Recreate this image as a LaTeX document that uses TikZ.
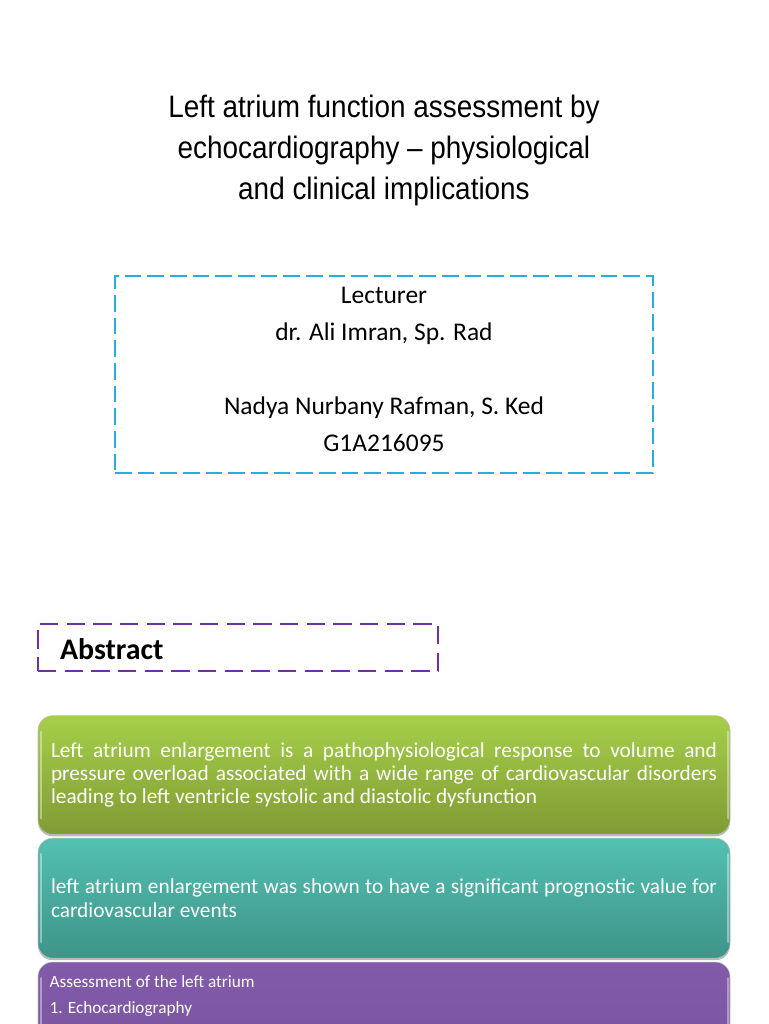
\documentclass[tikz,border=0pt]{standalone}
\usepackage{fontspec}
\setmainfont{Carlito}
\newfontfamily\titlefont[FakeStretch=0.9]{Liberation Sans}
\usetikzlibrary{positioning, shadows}
\definecolor{dashblue}{RGB}{38, 174, 222}
\definecolor{dashpurple}{RGB}{112, 48, 160}
\definecolor{greentop}{RGB}{166, 207, 74}
\definecolor{greenbot}{RGB}{128, 155, 52}
\definecolor{tealtop}{RGB}{82, 192, 178}
\definecolor{tealbot}{RGB}{62, 148, 136}
\definecolor{purpletop}{RGB}{130, 90, 170}
\definecolor{purplebot}{RGB}{118, 82, 156}
\tikzstyle{titletext} = [
    align=center,
    font=\titlefont\fontsize{23.25}{30.75}\selectfont
]
\tikzstyle{bluedash} = [
    rectangle,
    draw=dashblue,
    line width=1.5pt,
    dash pattern=on 12.5pt off 4.5pt
]
\tikzstyle{purpledash} = [
    rectangle,
    draw=dashpurple,
    line width=2.1pt,
    dash pattern=on 13.7pt off 6.3pt
]
\tikzstyle{colorbox} = [
    rectangle,
    rounded corners=11pt,
    minimum width=519pt,
    text width=499.5pt,
    align=justify,
    inner sep=0pt,
    text=white,
    draw=black!25,
    line width=.4pt,
    drop shadow={shadow xshift=0pt, shadow yshift=-1.5pt, opacity=.45, fill=black!60},
    path picture={
        \draw[white, opacity=.4, line width=1.6pt, line cap=round] ([xshift=2.4pt, yshift=-12pt]path picture bounding box.north west) -- ([xshift=2.4pt, yshift=12pt]path picture bounding box.south west);
        \draw[white, opacity=.4, line width=1.6pt, line cap=round] ([xshift=-1.2pt, yshift=-12pt]path picture bounding box.north east) -- ([xshift=-1.2pt, yshift=12pt]path picture bounding box.south east);
    },
    font=\fontsize{16}{17.5}\selectfont
]

\begin{document}
\begin{tikzpicture}[x=0.75pt, y=-0.75pt]
    \useasboundingbox (0,0) rectangle (768,1024);
    \node[titletext] (title) at (384,150.5) {Left atrium function assessment by\\echocardiography – physiological\\and clinical implications};
    \node[bluedash, minimum width=403.5pt, minimum height=147.75pt] (lecturer) at (384,374.5) {};
    \node[align=center, inner sep=0pt, font=\fontsize{19.1}{27.7}\selectfont] (names) at (384,369.5)
        {Lecturer\\dr. Ali Imran, Sp. Rad\\[27.7pt]Nadya Nurbany Rafman, S. Ked\\G1A216095};
    \node[purpledash, minimum width=300pt, minimum height=35.25pt, text width=267pt, text height=18.6pt, text depth=0pt, font=\fontsize{22.4}{26}\selectfont\bfseries] (abstract) at (238,647.5) {Abstract};

    \node[colorbox, top color=greentop, bottom color=greenbot, minimum height=89pt] (enlarge) at (384,775) {Left atrium enlargement is a pathophysiological response to volume and\linebreak pressure overload associated with a wide range of cardiovascular disorders\linebreak leading to left ventricle systolic and diastolic dysfunction};
    \node[colorbox, top color=tealtop, bottom color=tealbot, minimum height=90pt, below=2.5pt of enlarge] (prognostic) {left atrium enlargement was shown to have a significant prognostic value for\linebreak cardiovascular events};
    \node[colorbox, top color=purpletop, bottom color=purplebot, minimum height=110pt, below=2.5pt of prognostic] (assess) {};
    \node[anchor=north west, text=white, inner sep=0pt, align=left, font=\fontsize{12.9}{19.5}\selectfont] (assesstext) at ([xshift=8.7pt,yshift=-10pt]assess.north west) {Assessment of the left atrium\\1. Echocardiography};
\end{tikzpicture}
\end{document}
